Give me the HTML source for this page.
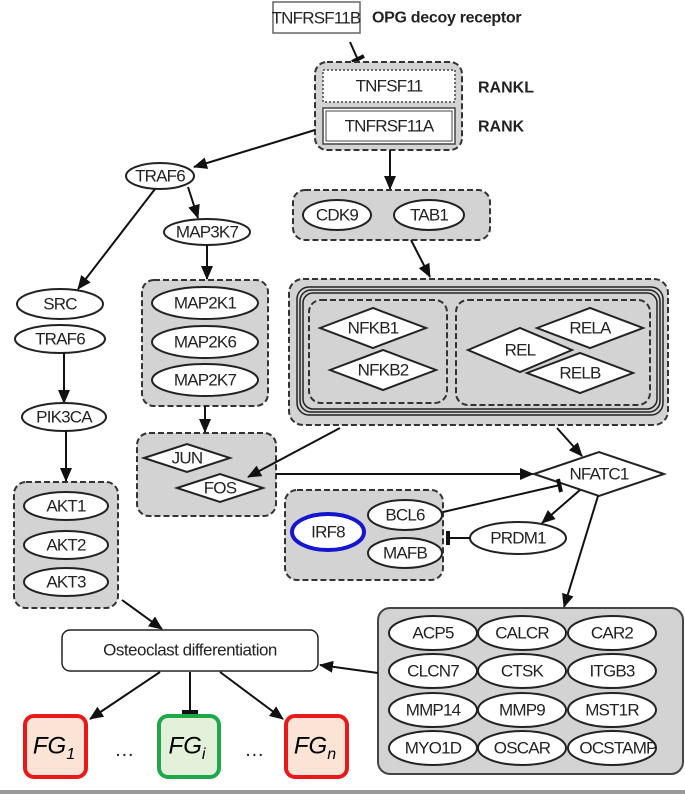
<!DOCTYPE html>
<html><head><meta charset="utf-8"><style>
html,body{margin:0;padding:0;background:#fff}
svg{display:block}
text{font-family:"Liberation Sans",sans-serif;font-size:17px;fill:#222;letter-spacing:-0.8px}
.g{fill:#d3d3d3;stroke:#333;stroke-width:2;stroke-dasharray:6 3}
.e{fill:#fff;stroke:#222;stroke-width:2}
.l{stroke:#111;stroke-width:2;fill:none}
</style></head><body>
<svg width="685" height="794" viewBox="0 0 685 794" xmlns="http://www.w3.org/2000/svg">
<defs>
<marker id="a" markerWidth="14" markerHeight="14" refX="13" refY="6" orient="auto" markerUnits="userSpaceOnUse" viewBox="0 0 14 12"><path d="M0,0 L14,6 L0,12z" fill="#111"/></marker>
</defs>
<g text-anchor="middle" dominant-baseline="central">
<rect x="273" y="2" width="87" height="31" fill="#fff" stroke="#666" stroke-width="1.5"/>
<text x="316" y="18">TNFRSF11B</text>
<text x="372" y="18" text-anchor="start" style="font-weight:bold;font-size:16px;letter-spacing:-0.3px">OPG decoy receptor</text>
<line x1="350" y1="42" x2="358" y2="60" class="l"/>
<line x1="352" y1="62" x2="364" y2="56" stroke="#111" stroke-width="4"/>
<rect x="315" y="62" width="147" height="88" rx="12" class="g"/>
<rect x="323" y="70" width="132" height="32" fill="#fff" stroke="#444" stroke-width="1.5" stroke-dasharray="2 2"/>
<text x="389" y="86">TNFSF11</text>
<rect x="323" y="108" width="132" height="36" fill="#fff" stroke="#444" stroke-width="1.5"/>
<rect x="326" y="111" width="126" height="30" fill="none" stroke="#444" stroke-width="1"/>
<text x="389" y="126">TNFRSF11A</text>
<text x="478" y="88" text-anchor="start" style="font-weight:bold;font-size:16px;letter-spacing:0">RANKL</text>
<text x="478" y="127" text-anchor="start" style="font-weight:bold;font-size:16px;letter-spacing:0">RANK</text>
<line x1="315" y1="130" x2="194" y2="167" class="l" marker-end="url(#a)"/>
<line x1="390" y1="150" x2="390" y2="189" class="l" marker-end="url(#a)"/>
<ellipse cx="160" cy="176" rx="34" ry="13" class="e"/><text x="160" y="176">TRAF6</text>
<rect x="293" y="190" width="197" height="50" rx="12" class="g"/>
<ellipse cx="337" cy="215" rx="34" ry="15" class="e"/><text x="337" y="215">CDK9</text>
<ellipse cx="429" cy="215" rx="35" ry="15" class="e"/><text x="429" y="215">TAB1</text>
<line x1="188" y1="187" x2="198" y2="218" class="l" marker-end="url(#a)"/>
<ellipse cx="207" cy="232" rx="43" ry="13" class="e"/><text x="207" y="232">MAP3K7</text>
<line x1="207" y1="245" x2="207" y2="279" class="l" marker-end="url(#a)"/>
<line x1="155" y1="189" x2="78" y2="289" class="l" marker-end="url(#a)"/>
<line x1="411" y1="240" x2="430" y2="277" class="l" marker-end="url(#a)"/>
<rect x="142" y="280" width="126" height="126" rx="12" class="g"/>
<ellipse cx="205" cy="303" rx="53" ry="16" class="e"/><text x="205" y="303">MAP2K1</text>
<ellipse cx="205" cy="342" rx="53" ry="16" class="e"/><text x="205" y="342">MAP2K6</text>
<ellipse cx="205" cy="380" rx="53" ry="16" class="e"/><text x="205" y="380">MAP2K7</text>
<ellipse cx="60" cy="304" rx="43" ry="15" class="e"/><text x="60" y="304">SRC</text>
<ellipse cx="60" cy="339" rx="45" ry="14" class="e"/><text x="60" y="339">TRAF6</text>
<line x1="64" y1="353" x2="64" y2="403" class="l" marker-end="url(#a)"/>
<ellipse cx="64" cy="417" rx="42" ry="14" class="e"/><text x="64" y="417">PIK3CA</text>
<line x1="66" y1="431" x2="66" y2="481" class="l" marker-end="url(#a)"/>
<rect x="14" y="482" width="104" height="126" rx="12" class="g"/>
<ellipse cx="66" cy="506" rx="42" ry="14" class="e"/><text x="66" y="506">AKT1</text>
<ellipse cx="66" cy="545" rx="42" ry="14" class="e"/><text x="66" y="545">AKT2</text>
<ellipse cx="66" cy="582" rx="42" ry="14" class="e"/><text x="66" y="582">AKT3</text>
<line x1="205" y1="406" x2="205" y2="432" class="l" marker-end="url(#a)"/>
<rect x="137" y="433" width="139" height="83" rx="12" class="g"/>
<polygon points="144,458 187,444 230,458 187,472" class="e"/><text x="187" y="458">JUN</text>
<polygon points="177,488 220,474 263,488 220,502" class="e"/><text x="220" y="488">FOS</text>
<rect x="289" y="279" width="379" height="146" rx="14" class="g"/>
<rect x="297" y="287" width="366" height="128" rx="12" fill="none" stroke="#222" stroke-width="1.5"/>
<rect x="300" y="290" width="360" height="122" rx="11" fill="none" stroke="#222" stroke-width="1.5"/>
<rect x="303" y="293" width="354" height="116" rx="10" fill="none" stroke="#222" stroke-width="1.5"/>
<rect x="309" y="300" width="138" height="103" rx="12" class="g"/>
<rect x="456" y="300" width="194" height="105" rx="12" class="g"/>
<polygon points="320,328 373,308 426,328 373,348" class="e"/><text x="373" y="328">NFKB1</text>
<polygon points="330,370 383,350 436,370 383,390" class="e"/><text x="383" y="370">NFKB2</text>
<polygon points="468,350 520,328 572,350 520,372" class="e"/><text x="520" y="350">REL</text>
<polygon points="537,328 590,308 643,328 590,348" class="e"/><text x="590" y="328">RELA</text>
<polygon points="527,373 580,353 633,373 580,393" class="e"/><text x="580" y="373">RELB</text>
<line x1="340" y1="428" x2="248" y2="477" class="l" marker-end="url(#a)"/>
<line x1="557" y1="428" x2="582" y2="456" class="l" marker-end="url(#a)"/>
<line x1="276" y1="474" x2="533" y2="474" class="l" marker-end="url(#a)"/>
<polygon points="534,474 599,452 664,474 599,496" class="e"/><text x="599" y="474">NFATC1</text>
<rect x="285" y="490" width="158" height="90" rx="12" class="g"/>
<ellipse cx="405" cy="515" rx="37" ry="15" class="e"/><text x="405" y="515">BCL6</text>
<ellipse cx="405" cy="553" rx="37" ry="15" class="e"/><text x="405" y="553">MAFB</text>
<ellipse cx="328" cy="532" rx="36" ry="18" fill="#fff" stroke="#1515d0" stroke-width="4"/><text x="328" y="532">IRF8</text>
<ellipse cx="518" cy="538" rx="48" ry="16" class="e"/><text x="518" y="538">PRDM1</text>
<line x1="443" y1="512" x2="560" y2="485" class="l"/>
<line x1="558" y1="479" x2="561" y2="492" stroke="#111" stroke-width="4"/>
<line x1="580" y1="490" x2="542" y2="523" class="l" marker-end="url(#a)"/>
<line x1="470" y1="538" x2="449" y2="538" class="l"/>
<line x1="448" y1="531" x2="448" y2="545" stroke="#111" stroke-width="4"/>
<line x1="598" y1="496" x2="564" y2="607" class="l" marker-end="url(#a)"/>
<rect x="378" y="608" width="305" height="166" rx="12" fill="#d3d3d3" stroke="#444" stroke-width="2"/>
<g>
<ellipse cx="433" cy="633" rx="44" ry="17" class="e"/><text x="433" y="633">ACP5</text>
<ellipse cx="522" cy="633" rx="44" ry="17" class="e"/><text x="522" y="633">CALCR</text>
<ellipse cx="612" cy="633" rx="44" ry="17" class="e"/><text x="612" y="633">CAR2</text>
<ellipse cx="433" cy="671" rx="44" ry="17" class="e"/><text x="433" y="671">CLCN7</text>
<ellipse cx="522" cy="671" rx="44" ry="17" class="e"/><text x="522" y="671">CTSK</text>
<ellipse cx="612" cy="671" rx="44" ry="17" class="e"/><text x="612" y="671">ITGB3</text>
<ellipse cx="433" cy="710" rx="44" ry="17" class="e"/><text x="433" y="710">MMP14</text>
<ellipse cx="522" cy="710" rx="44" ry="17" class="e"/><text x="522" y="710">MMP9</text>
<ellipse cx="612" cy="710" rx="44" ry="17" class="e"/><text x="612" y="710">MST1R</text>
<ellipse cx="433" cy="748" rx="44" ry="17" class="e"/><text x="433" y="748">MYO1D</text>
<ellipse cx="522" cy="748" rx="44" ry="17" class="e"/><text x="522" y="748">OSCAR</text>
<ellipse cx="612" cy="748" rx="44" ry="17" class="e"/><text x="618" y="748">OCSTAMP</text>
</g>
<line x1="378" y1="673" x2="320" y2="665" class="l" marker-end="url(#a)"/>
<line x1="122" y1="600" x2="162" y2="629" class="l" marker-end="url(#a)"/>
<rect x="62" y="630" width="256" height="41" rx="8" fill="#fff" stroke="#222" stroke-width="1.5"/>
<text x="190" y="650" style="font-size:17px;letter-spacing:-0.5px">Osteoclast differentiation</text>
<line x1="160" y1="672" x2="90" y2="719" class="l" marker-end="url(#a)"/>
<line x1="190" y1="672" x2="190" y2="711" class="l"/>
<line x1="182" y1="712" x2="198" y2="712" stroke="#111" stroke-width="4"/>
<line x1="220" y1="672" x2="283" y2="719" class="l" marker-end="url(#a)"/>
<rect x="25" y="716" width="61" height="61" rx="9" fill="#fbe4d6" stroke="#e8191b" stroke-width="4"/>
<rect x="159" y="716" width="60" height="61" rx="9" fill="#e3f0da" stroke="#1fa84a" stroke-width="4"/>
<rect x="286" y="716" width="61" height="61" rx="9" fill="#fbe4d6" stroke="#e8191b" stroke-width="4"/>
<text x="54" y="746" style="font-style:italic;font-size:24px;fill:#000;letter-spacing:0">FG<tspan font-size="16" dy="8">1</tspan></text>
<text x="187" y="746" style="font-style:italic;font-size:24px;fill:#000;letter-spacing:0">FG<tspan font-size="16" dy="8">i</tspan></text>
<text x="315" y="746" style="font-style:italic;font-size:24px;fill:#000;letter-spacing:0">FG<tspan font-size="16" dy="8">n</tspan></text>
<text x="124" y="750" style="font-size:20px">…</text>
<text x="254" y="750" style="font-size:20px">…</text>
</g>
<rect x="0" y="790" width="685" height="4" fill="#999"/>
</svg>
</body></html>
